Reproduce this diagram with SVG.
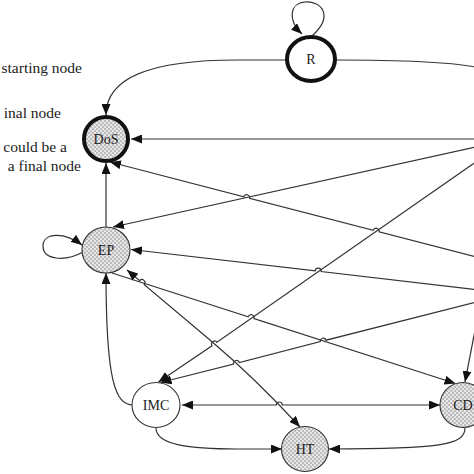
<svg xmlns="http://www.w3.org/2000/svg" width="474" height="474" viewBox="0 0 474 474">
<style>
.edge{fill:none;stroke:#333;stroke-width:1.2}
.arr{marker-end:url(#ah)}
.both{marker-start:url(#ah);marker-end:url(#ah)}
.node{stroke:#333;stroke-width:1.1}
.thick{stroke:#111;stroke-width:4}
.hat{fill:url(#hatch)}
.wht{fill:#fff}
.lbl{font-family:"Liberation Serif","Times New Roman",serif;font-size:14px;fill:#222;text-anchor:middle;dominant-baseline:central}
.leg{font-family:"Liberation Serif","Times New Roman",serif;font-size:15.5px;fill:#222;text-anchor:end}
</style>
<defs>
<marker id="ah" markerUnits="userSpaceOnUse" markerWidth="12" markerHeight="9" refX="11" refY="4.5" orient="auto-start-reverse">
<path d="M0,0 L11,4.5 L0,9 z" fill="#111"/>
</marker>
<pattern id="hatch" width="4" height="4" patternUnits="userSpaceOnUse">
<rect width="4" height="4" fill="#e6e6e6"/>
<rect width="2" height="2" fill="#bdbdbd"/>
<rect x="2" y="2" width="2" height="2" fill="#bdbdbd"/>
</pattern>
</defs>
<rect width="474" height="474" fill="#fff"/>
<g id="legend">
<text class="leg" x="82" y="73">starting node</text>
<text class="leg" x="61" y="118">inal node</text>
<text class="leg" x="67" y="152">could be a</text>
<text class="leg" x="81" y="171">a final node</text>
</g>
<g id="connectors">
<path class="edge arr" d="M312,36 C334,16 322,1 305,2 C290,3 287,20 302,34"/>
<path class="edge arr" d="M286,60 L237,60 C150,60 106,78 106,115"/>
<path class="edge" d="M336,60 C400,60 455,62 480,68"/>
<path class="edge arr" d="M480,139 L131,139"/>
<path class="edge arr" d="M480,146 L113,227"/>
<path class="edge arr" d="M480,159 L216.96,342.29 A3,3 0 0 0 212.04,345.71 L158.5,382"/>
<path class="edge arr" d="M480,258 L379.1,231.85 A3,3 0 0 0 373.3,230.35 L249.6,198.25 A3,3 0 0 0 243.8,196.75 L110,162"/>
<path class="edge arr" d="M480,290 L321.2,271.5 A3,3 0 0 0 315.2,270.9 L131,249.5"/>
<path class="edge arr" d="M112,273 L248.2,316.8 A3,3 0 0 1 254,318.6 L455.5,383.5"/>
<path class="edge arr" d="M480,301 L326.1,340.2 A3,3 0 0 0 320.3,341.6 L239.4,362.5 A3,3 0 0 0 233.6,364 L160.5,382.5"/>
<path class="edge both" d="M127,270 L139.7,280.7 A3,3 0 0 1 144.3,284.6 L210,340 Q255,378 300,427"/>
<path class="edge both" d="M182,405 L276.3,405 A3,3 0 0 1 282.3,405 L440,405"/>
<path class="edge arr" d="M156,428 C156,445 190,449 237,449 L282,449"/>
<path class="edge arr" d="M465,428 C465,445 440,449 329,449"/>
<path class="edge arr" d="M477,320 L465,382"/>
<path class="edge arr" d="M106,227 L106,163"/>
<path class="edge arr" d="M83,252 C65,262 43,260 43,246 C43,232 65,232 82,245"/>
<path class="edge arr" d="M133,405 C115,405 106,380 106,273"/>
</g>
<g id="node-R"><ellipse class="wht thick" cx="311" cy="59" rx="24" ry="22"/><text class="lbl" x="311" y="59">R</text></g>
<g id="node-DoS"><ellipse class="hat thick" cx="106" cy="139" rx="22" ry="22"/><text class="lbl" x="106" y="139">DoS</text></g>
<g id="node-EP"><ellipse class="hat node" cx="106" cy="250" rx="24" ry="23"/><text class="lbl" x="106" y="250">EP</text></g>
<g id="node-IMC"><ellipse class="wht node" cx="156" cy="405" rx="24" ry="22.5"/><text class="lbl" x="156" y="405">IMC</text></g>
<g id="node-HT"><ellipse class="hat node" cx="305" cy="449" rx="23.5" ry="22.5"/><text class="lbl" x="305" y="449">HT</text></g>
<g id="node-CD"><ellipse class="hat node" cx="463" cy="405" rx="23" ry="22.5"/><text class="lbl" x="463" y="405">CD</text></g>
</svg>
